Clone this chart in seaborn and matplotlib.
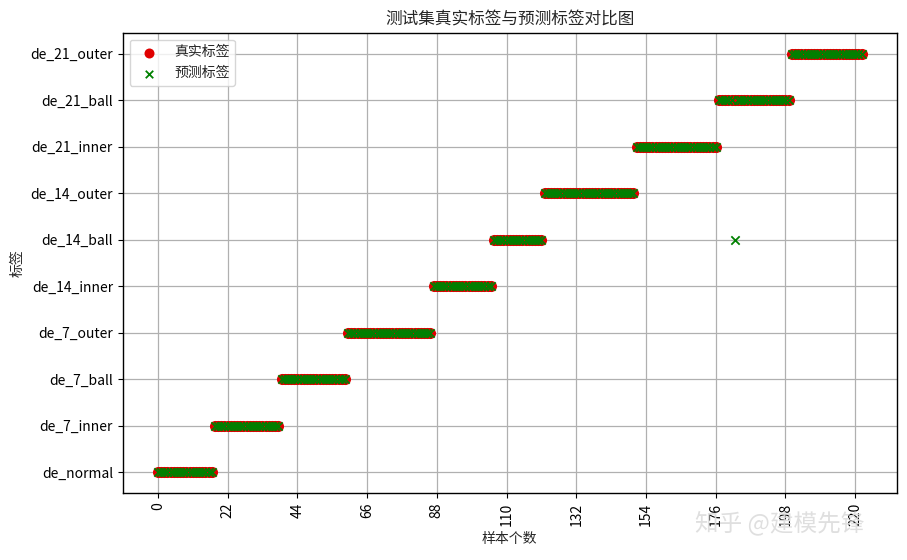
import numpy as np
import pandas as pd
import seaborn as sns
import matplotlib.pyplot as plt

# class names, in the order of the y axis
labels = ["de_normal", "de_7_inner", "de_7_ball", "de_7_outer", "de_14_inner",
          "de_14_ball", "de_14_outer", "de_21_inner", "de_21_ball", "de_21_outer"]
# number of test samples of each class (samples are sorted by class)
counts = [18, 21, 21, 27, 19, 16, 29, 26, 23, 23]
# misclassified samples: index -> predicted class
wrong_idx = [182]
wrong_pred = [5]

y_true = np.repeat(np.arange(len(labels)), counts)
y_pred = y_true.copy()
y_pred[wrong_idx] = wrong_pred
n = len(y_true)

df = pd.DataFrame({"idx": np.arange(n), "true": y_true, "pred": y_pred})

sns.set_style("ticks")
plt.rcParams["font.family"] = ["Noto Sans CJK SC", "DejaVu Sans"]
plt.rcParams["axes.unicode_minus"] = False

fig = plt.figure(figsize=(9.07, 5.6), dpi=100)
ax = fig.add_axes([0.1353, 0.1196, 0.8534, 0.8220])

sns.scatterplot(data=df, x="idx", y="true", marker="o", color="#e00000",
                s=64, linewidth=0, label="真实标签", ax=ax, zorder=3)
sns.scatterplot(data=df, x="idx", y="pred", marker="x", color="green",
                s=36, linewidth=1.3, label="预测标签", ax=ax, zorder=4)

ax.set_yticks(range(len(labels)))
ax.set_yticklabels(labels, fontsize=10)
xt = np.arange(0, n, 22)
ax.set_xticks(xt)
ax.set_xticklabels([str(v) for v in xt], rotation=90, fontsize=10)
ax.set_xlim(-11.1, n - 1 + 11.1)
ax.set_ylim(-0.45, 9.45)
ax.grid(True, color="#b0b0b0", linewidth=0.9)
ax.set_axisbelow(True)
for s in ax.spines.values():
    s.set_color("black")
    s.set_linewidth(1)
ax.tick_params(colors="black", length=3.5, width=0.8)

ax.set_title("测试集真实标签与预测标签对比图", fontsize=12)
ax.set_xlabel("样本个数", fontsize=10)
ax.set_ylabel("标签", fontsize=10)
ax.legend(loc="upper left", fontsize=10, frameon=True, markerscale=0.9)

# image host watermark
fig.text(0.86, 0.066, "知乎 @建模先锋", fontsize=17, color="#dcdcdc",
         ha="center", va="center", alpha=0.9)

fig.savefig("out.png", dpi=100)
